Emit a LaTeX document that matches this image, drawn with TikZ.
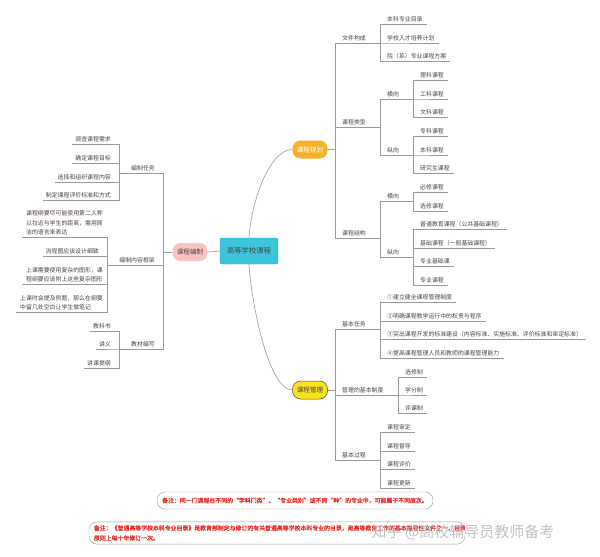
\documentclass[tikz,border=0pt]{standalone}
\usepackage{fontspec}
\setmainfont{Noto Sans CJK SC}[AutoFakeBold=1.5]
\usetikzlibrary{positioning}
\definecolor{CText}{HTML}{4F4440}
\definecolor{CLine}{HTML}{9A9A9A}
\definecolor{CCyan}{HTML}{3EC5DB}
\definecolor{CCyanD}{HTML}{2BA9BE}
\definecolor{CPink}{HTML}{F8C3C1}
\definecolor{COrange}{HTML}{F6B22A}
\definecolor{CYellow}{HTML}{F7E31E}
\definecolor{CRed}{HTML}{E8322B}
\definecolor{CMark}{HTML}{B8B8B8}

\begin{document}
\begin{tikzpicture}[x=1pt, y=-1pt,
    link/.style={CLine, line width=0.6pt},
    base/.style={font=\fontsize{5.9}{9.7}\selectfont, text=CText, inner ysep=1.5pt, inner xsep=0pt},
    leaf/.style={base, anchor=south west, execute at begin node=\hspace*{7pt}, execute at end node=\hspace*{4pt}},
    leafL/.style={base, anchor=south east, execute at begin node=\hspace*{3pt}, execute at end node=\hspace*{8pt}},
    leafM/.style={base, anchor=south east, align=left, inner xsep=4pt},
    topic/.style={rounded corners=8pt, minimum width=35pt, minimum height=18pt, inner sep=1pt, font=\fontsize{6.6}{8}\selectfont},
    note/.style={draw=CLine, rounded corners=8pt, text=CRed, font=\bfseries\fontsize{5.9}{10}\selectfont}]

    % Page
    \useasboundingbox (0,0) rectangle (600,557);
    \fill[white] (0,0) rectangle (600,557);

    % Root and main topics
    \node[fill=CCyan, draw=CCyanD, rounded corners=2pt, minimum width=58pt, minimum height=26pt, text=CText, font=\fontsize{7.3}{9}\selectfont] (root) at (249,251) {高等学校课程};
    \node[topic, fill=CPink, text=CText] (bz) at (190,252) {课程编制};
    \node[topic, fill=COrange, text=white] (gh) at (310,149.5) {课程规划};
    \node[topic, fill=CYellow, draw=CText, line width=0.5pt, text=CText] (gl) at (310,390) {课程管理};

    \draw[link] (root.west) -- (bz.east);
    \draw[link] (root.north) .. controls (251,205) and (268,150) .. (gh.west);
    \draw[link] (root.south) .. controls (251,300) and (268,390) .. (gl.west);

    % Course planning
    \node[leaf] (wjgc) at (335,43) {文件构成};
    \node[leaf] (kclx) at (335,127) {课程类型};
    \node[leaf] (kcjg) at (335,238) {课程结构};
    \draw[link] (gh.east) -| (wjgc.south west) -- (wjgc.south east);
    \draw[link] (gh.east) -| (kclx.south west) -- (kclx.south east);
    \draw[link] (gh.east) -| (kcjg.south west) -- (kcjg.south east);

    \node[leaf] (wj1) at (380,24) {本科专业目录};
    \node[leaf] (wj2) at (380,43) {学校人才培养计划};
    \node[leaf] (wj3) at (380,61) {院（系）专业课程方案};
    \draw[link] (wjgc.south east) -| (wj1.south west) -- (wj1.south east);
    \draw[link] (wjgc.south east) -| (wj2.south west) -- (wj2.south east);
    \draw[link] (wjgc.south east) -| (wj3.south west) -- (wj3.south east);

    \node[leaf] (hx1) at (380,99) {横向};
    \node[leaf] (zx1) at (380,155) {纵向};
    \draw[link] (kclx.south east) -| (hx1.south west) -- (hx1.south east);
    \draw[link] (kclx.south east) -| (zx1.south west) -- (zx1.south east);

    \node[leaf] (lk) at (413,80) {理科课程};
    \node[leaf] (gk) at (413,99) {工科课程};
    \node[leaf] (wk) at (413,117) {文科课程};
    \draw[link] (hx1.south east) -| (lk.south west) -- (lk.south east);
    \draw[link] (hx1.south east) -| (gk.south west) -- (gk.south east);
    \draw[link] (hx1.south east) -| (wk.south west) -- (wk.south east);

    \node[leaf] (zk) at (413,136) {专科课程};
    \node[leaf] (bk) at (413,155) {本科课程};
    \node[leaf] (yjs) at (413,173) {研究生课程};
    \draw[link] (zx1.south east) -| (zk.south west) -- (zk.south east);
    \draw[link] (zx1.south east) -| (bk.south west) -- (bk.south east);
    \draw[link] (zx1.south east) -| (yjs.south west) -- (yjs.south east);

    \node[leaf] (hx2) at (380,201) {横向};
    \node[leaf] (zx2) at (380,257) {纵向};
    \draw[link] (kcjg.south east) -| (hx2.south west) -- (hx2.south east);
    \draw[link] (kcjg.south east) -| (zx2.south west) -- (zx2.south east);

    \node[leaf] (bx) at (413,192) {必修课程};
    \node[leaf] (xx) at (413,211) {选修课程};
    \draw[link] (hx2.south east) -| (bx.south west) -- (bx.south east);
    \draw[link] (hx2.south east) -| (xx.south west) -- (xx.south east);

    \node[leaf] (pt) at (413,229) {普通教育课程（公共基础课程）};
    \node[leaf] (jc) at (413,248) {基础课程（一般基础课程）};
    \node[leaf] (zyjc) at (413,266) {专业基础课};
    \node[leaf] (zy) at (413,285) {专业课程};
    \draw[link] (zx2.south east) -| (pt.south west) -- (pt.south east);
    \draw[link] (zx2.south east) -| (jc.south west) -- (jc.south east);
    \draw[link] (zx2.south east) -| (zyjc.south west) -- (zyjc.south east);
    \draw[link] (zx2.south east) -| (zy.south west) -- (zy.south east);

    % Course management
    \node[leaf] (jbrw) at (335,329) {基本任务};
    \node[leaf] (glzd) at (335,395) {管理的基本制度};
    \node[leaf] (jbgc) at (335,460) {基本过程};
    \draw[link] (gl.east) -| (jbrw.south west) -- (jbrw.south east);
    \draw[link] (gl.east) -| (glzd.south west) -- (glzd.south east);
    \draw[link] (gl.east) -| (jbgc.south west) -- (jbgc.south east);

    \node[leaf] (rw1) at (380,302) {①建立健全课程管理制度};
    \node[leaf] (rw2) at (380,321) {②明确课程教学运行中的权责与程序};
    \node[leaf] (rw3) at (380,339) {③突出课程开发的标准建设（内容标准、实施标准、评价标准和审定标准）};
    \node[leaf] (rw4) at (380,358) {④提高课程管理人员和教师的课程管理能力};
    \draw[link] (jbrw.south east) -| (rw1.south west) -- (rw1.south east);
    \draw[link] (jbrw.south east) -| (rw2.south west) -- (rw2.south east);
    \draw[link] (jbrw.south east) -| (rw3.south west) -- (rw3.south east);
    \draw[link] (jbrw.south east) -| (rw4.south west) -- (rw4.south east);

    \node[leaf] (xxz) at (398,377) {选修制};
    \node[leaf] (xfz) at (398,395) {学分制};
    \node[leaf] (pkz) at (398,413) {评课制};
    \draw[link] (glzd.south east) -| (xxz.south west) -- (xxz.south east);
    \draw[link] (glzd.south east) -| (xfz.south west) -- (xfz.south east);
    \draw[link] (glzd.south east) -| (pkz.south west) -- (pkz.south east);

    \node[leaf] (sd) at (380,432) {课程审定};
    \node[leaf] (dd) at (380,451) {课程督导};
    \node[leaf] (pj) at (380,469) {课程评价};
    \node[leaf] (gx) at (380,488) {课程更新};
    \draw[link] (jbgc.south east) -| (sd.south west) -- (sd.south east);
    \draw[link] (jbgc.south east) -| (dd.south west) -- (dd.south east);
    \draw[link] (jbgc.south east) -| (pj.south west) -- (pj.south east);
    \draw[link] (jbgc.south east) -| (gx.south west) -- (gx.south east);

    % Course making (left side)
    \node[leafL] (bzrw) at (163,173) {编制任务};
    \node[leafL] (nrkj) at (163,265) {编制内容框架};
    \node[leafL] (jcbx) at (163,349) {教材编写};
    \draw[link] (bz.west) -| (bzrw.south east) -- (bzrw.south west);
    \draw[link] (bz.west) -| (nrkj.south east) -- (nrkj.south west);
    \draw[link] (bz.west) -| (jcbx.south east) -- (jcbx.south west);

    \node[leafL] (dc) at (119,144) {调查课程需求};
    \node[leafL] (qd) at (119,163) {确定课程目标};
    \node[leafL] (xz) at (119,182) {选择和组织课程内容};
    \node[leafL] (zd) at (119,200) {制定课程评价标准和方式};
    \draw[link] (bzrw.south west) -| (dc.south east) -- (dc.south west);
    \draw[link] (bzrw.south west) -| (qd.south east) -- (qd.south west);
    \draw[link] (bzrw.south west) -| (xz.south east) -- (xz.south west);
    \draw[link] (bzrw.south west) -| (zd.south east) -- (zd.south west);

    \node[leafM] (kj1) at (107,237) {课程纲要尽可能使用第二人称\\以拉近与学生的距离，需用简\\洁的语言来表达};
    \node[leafL] (kj2) at (107,256) {流程图应该设计细致};
    \node[leafM] (kj3) at (107,284) {上课需要使用复杂的图形，课\\程纲要应该附上这些复杂图形};
    \node[leafM] (kj4) at (107,312) {上课时会提及例题，那么在纲要\\中留几处空白让学生做笔记};
    \draw[link] (nrkj.south west) -| (kj1.south east) -- (kj1.south west);
    \draw[link] (nrkj.south west) -| (kj2.south east) -- (kj2.south west);
    \draw[link] (nrkj.south west) -| (kj3.south east) -- (kj3.south west);
    \draw[link] (nrkj.south west) -| (kj4.south east) -- (kj4.south west);

    \node[leafL] (jks) at (119,331) {教科书};
    \node[leafL] (jy) at (119,349) {讲义};
    \node[leafL] (tg) at (119,368) {讲课提纲};
    \draw[link] (jcbx.south west) -| (jks.south east) -- (jks.south west);
    \draw[link] (jcbx.south west) -| (jy.south east) -- (jy.south west);
    \draw[link] (jcbx.south west) -| (tg.south east) -- (tg.south west);

    % Notes
    \node[note, minimum width=276pt, minimum height=17pt] (note1) at (295,500.5) {备注：同一门课程在不同的“学科门类”、“专业类别”或不同“种”的专业中，可能属于不同层次。};
    \node[note, text width=366pt, inner xsep=5pt, minimum height=20pt, align=left] (note2) at (277,533) {备注：《普通高等学校本科专业目录》是教育部制定与修订的有关普通高等学校本科专业的目录，是高等教育工作的基本指导性文件之一，目录\\原则上每十年修订一次。};
    \node[text=CMark, opacity=0.85, font=\fontsize{15}{15}\selectfont] (mark) at (463,532) {知乎 @高校辅导员教师备考};
\end{tikzpicture}
\end{document}
